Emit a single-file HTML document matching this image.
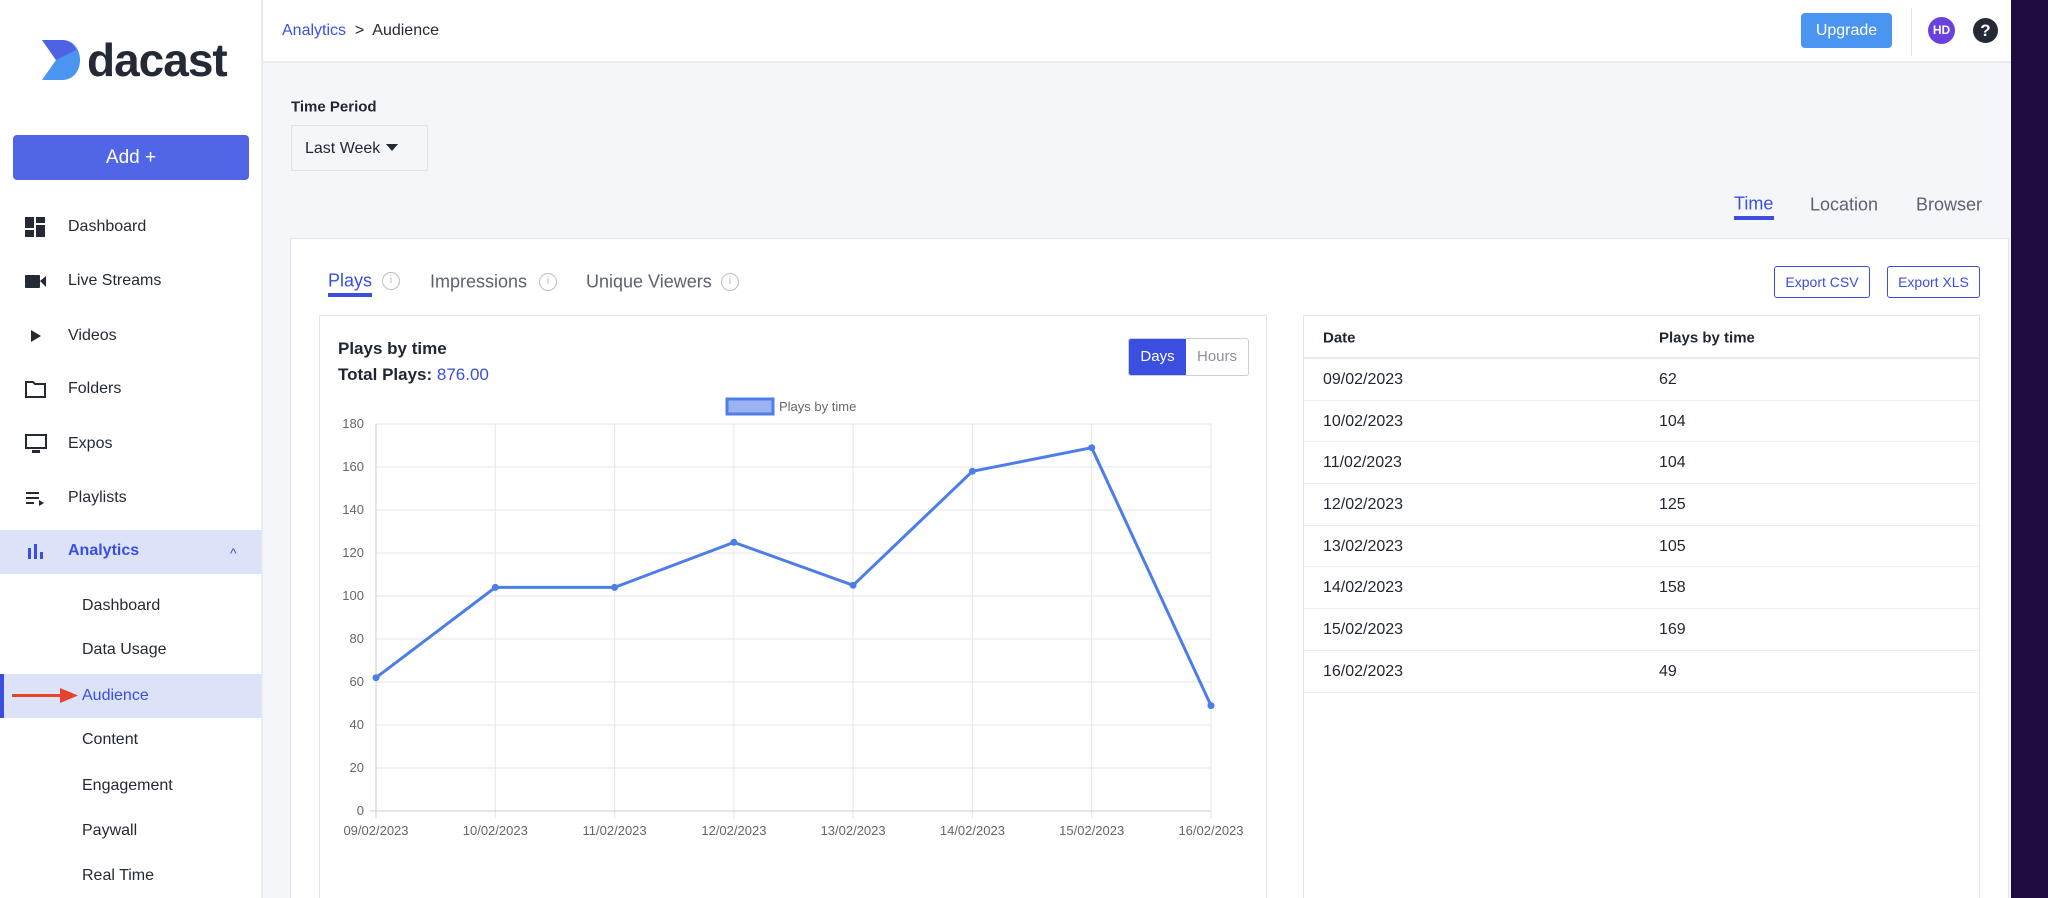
<!DOCTYPE html>
<html style="width:2048px;height:898px;overflow:hidden"><head><meta charset="utf-8"><style>
*{box-sizing:border-box;margin:0;padding:0}
body{width:2048px;height:898px;overflow:hidden;background:#f5f6fa;font-family:"Liberation Sans",sans-serif;color:#1f2633;position:relative}
.abs{position:absolute}
.side{left:0;top:0;width:263px;height:898px;background:#fff;border-right:2px solid #e8eaf0}
.nav{position:absolute;left:68px;font-size:16px;color:#232a36;transform:translateY(-50%)}
.sub{position:absolute;left:82px;font-size:16px;color:#232a36;transform:translateY(-50%)}
.ico{position:absolute;left:25px;width:22px;height:20px;transform:translateY(-50%)}
.hdr{left:263px;top:0;width:1748px;height:63px;background:#fff;border-bottom:2px solid #e8eaf0}
.t{position:absolute;white-space:nowrap;transform:translateY(-50%)}
</style></head><body>
<div class="abs side">
  <svg class="abs" style="left:40px;top:40px" width="42" height="40" viewBox="0 0 42 40"><path d="M2 0H22C34 0 40 10 40 20C40 30 34 40 22 40H2L16 20Z" fill="#4a95f0"/><path d="M2 0H22C30 0 34 5 36 10L16 20Z" fill="#4d63e4"/></svg>
  <div class="t" style="left:87px;top:60px;font-size:46px;font-weight:bold;color:#232a36;letter-spacing:-1px">dacast</div>
  <div class="abs" style="left:13px;top:135px;width:236px;height:45px;background:#5066e6;border-radius:4px;color:#fff;font-size:19px;text-align:center;line-height:45px">Add +</div>
  <div class="ico" style="top:227px"><svg width="22" height="20"><rect x="0" y="0" width="9" height="11" fill="#232a36"/><rect x="11" y="0" width="9" height="6" fill="#232a36"/><rect x="0" y="13" width="9" height="7" fill="#232a36"/><rect x="11" y="8" width="9" height="12" fill="#232a36"/></svg></div>
  <div class="nav" style="top:227px">Dashboard</div>
  <div class="ico" style="top:281px"><svg width="22" height="20"><rect x="0" y="4" width="15" height="13" rx="1" fill="#232a36"/><path d="M15 10L21 5V16Z" fill="#232a36"/></svg></div>
  <div class="nav" style="top:281px">Live Streams</div>
  <div class="ico" style="top:336px"><svg width="22" height="20"><path d="M6 4L16 10L6 16Z" fill="#232a36"/></svg></div>
  <div class="nav" style="top:336px">Videos</div>
  <div class="ico" style="top:389px"><svg width="22" height="20"><path d="M1 3H8L10 5H20V18H1Z" fill="none" stroke="#232a36" stroke-width="2"/></svg></div>
  <div class="nav" style="top:389px">Folders</div>
  <div class="ico" style="top:444px"><svg width="22" height="20"><rect x="1" y="1" width="20" height="13" fill="none" stroke="#232a36" stroke-width="2"/><rect x="7" y="16" width="8" height="3" fill="#232a36"/></svg></div>
  <div class="nav" style="top:444px">Expos</div>
  <div class="ico" style="top:498px"><svg width="22" height="20"><rect x="1" y="4" width="13" height="2" fill="#232a36"/><rect x="1" y="9" width="13" height="2" fill="#232a36"/><rect x="1" y="14" width="8" height="2" fill="#232a36"/><path d="M14 12L19 15L14 18Z" fill="#232a36"/></svg></div>
  <div class="nav" style="top:498px">Playlists</div>
  <div class="abs" style="left:0;top:530px;width:261px;height:44px;background:#dce2f8"></div>
  <div class="ico" style="top:551px"><svg width="22" height="20"><rect x="3" y="7" width="3" height="11" fill="#3a4fe0"/><rect x="9" y="3" width="3" height="15" fill="#3a4fe0"/><rect x="15" y="11" width="3" height="7" fill="#3a4fe0"/></svg></div>
  <div class="nav" style="top:551px;color:#3a4fe0;font-weight:bold">Analytics</div>
  <div class="t" style="left:230px;top:553px;font-size:14px;color:#3a4fe0">^</div>
  <div class="sub" style="top:606px">Dashboard</div>
  <div class="sub" style="top:650px">Data Usage</div>
  <div class="abs" style="left:0;top:674px;width:261px;height:44px;background:#dce2f8;border-left:4px solid #3a4fe0"></div>
  <svg class="abs" style="left:10px;top:688px" width="70" height="16"><rect x="2" y="6" width="52" height="3" fill="#e8412c"/><path d="M50 0L68 7.5L50 15Z" fill="#e8412c"/></svg>
  <div class="sub" style="top:696px;color:#3a4fe0">Audience</div>
  <div class="sub" style="top:740px">Content</div>
  <div class="sub" style="top:786px">Engagement</div>
  <div class="sub" style="top:831px">Paywall</div>
  <div class="sub" style="top:876px">Real Time</div>
</div>
<div class="abs hdr">
  <div class="t" style="left:19px;top:31px;font-size:16px;color:#3a4fe0">Analytics <span style="color:#232a36">&nbsp;&gt;&nbsp; Audience</span></div>
  <div class="abs" style="left:1538px;top:13px;width:91px;height:35px;background:#4a95f0;border-radius:4px;color:#fff;font-size:16px;text-align:center;line-height:35px">Upgrade</div>
  <div class="abs" style="left:1648px;top:8px;width:1px;height:48px;background:#e3e5ea"></div>
  <div class="abs" style="left:1665px;top:17px;width:27px;height:27px;border-radius:50%;background:#6a40e0;color:#fff;font-size:12px;font-weight:bold;text-align:center;line-height:27px">HD</div>
  <div class="abs" style="left:1710px;top:18px;width:25px;height:25px;border-radius:50%;background:#232a36;color:#fff;font-size:17px;font-weight:bold;text-align:center;line-height:25px">?</div>
</div>
<div class="abs" style="left:2011px;top:0;width:37px;height:898px;background:#1e0c40"></div>
<div class="t" style="left:291px;top:107px;font-size:15px;font-weight:bold">Time Period</div>
<div class="abs" style="left:291px;top:125px;width:137px;height:46px;background:#f5f6fa;border:1px solid #dfe2e8"></div>
<div class="t" style="left:305px;top:149px;font-size:16px">Last Week</div>
<svg class="abs" style="left:386px;top:144px" width="12" height="8"><path d="M0 0H12L6 7Z" fill="#232a36"/></svg>
<div class="t" style="left:1734px;top:204px;font-size:18px;color:#3a4fe0">Time</div>
<div class="abs" style="left:1734px;top:216px;width:40px;height:4px;background:#3a4fe0"></div>
<div class="t" style="left:1810px;top:205px;font-size:18px;color:#5c6370">Location</div>
<div class="t" style="left:1916px;top:205px;font-size:18px;color:#5c6370">Browser</div>
<div class="abs" style="left:290px;top:238px;width:1719px;height:660px;background:#fff;border:1px solid #e1e4ea;border-bottom:none"></div>
<div class="t" style="left:328px;top:281px;font-size:18px;color:#3a4fe0">Plays</div>
<div class="abs" style="left:328px;top:293px;width:44px;height:4px;background:#3a4fe0"></div>
<div class="abs" style="left:382px;top:272px;width:18px;height:18px;border:1.5px solid #b8bfcc;border-radius:50%;color:#b8bfcc;font-size:11px;text-align:center;line-height:15px">i</div>
<div class="t" style="left:430px;top:282px;font-size:18px;color:#5c6370">Impressions</div>
<div class="abs" style="left:539px;top:273px;width:18px;height:18px;border:1.5px solid #b8bfcc;border-radius:50%;color:#b8bfcc;font-size:11px;text-align:center;line-height:15px">i</div>
<div class="t" style="left:586px;top:282px;font-size:18px;color:#5c6370">Unique Viewers</div>
<div class="abs" style="left:721px;top:273px;width:18px;height:18px;border:1.5px solid #b8bfcc;border-radius:50%;color:#b8bfcc;font-size:11px;text-align:center;line-height:15px">i</div>
<div class="abs" style="left:1774px;top:266px;width:96px;height:32px;border:1px solid #3a4fe0;border-radius:3px;color:#3a4fe0;font-size:14px;text-align:center;line-height:30px">Export CSV</div>
<div class="abs" style="left:1887px;top:266px;width:93px;height:32px;border:1px solid #3a4fe0;border-radius:3px;color:#3a4fe0;font-size:14px;text-align:center;line-height:30px">Export XLS</div>
<div class="abs" style="left:319px;top:315px;width:948px;height:583px;background:#fff;border:1px solid #e1e4ea;border-bottom:none"></div>
<div class="t" style="left:338px;top:349px;font-size:17px;font-weight:bold">Plays by time</div>
<div class="t" style="left:338px;top:375px;font-size:17px;font-weight:bold">Total Plays: <span style="color:#3a4fe0;font-weight:normal">876.00</span></div>
<div class="abs" style="left:1128px;top:338px;width:121px;height:38px;border:1px solid #c9ced8;border-radius:3px;overflow:hidden;font-size:15px;line-height:36px">
  <div class="abs" style="left:0;top:0;width:57px;height:36px;background:#3a4fe0;color:#fff;text-align:center">Days</div>
  <div class="abs" style="left:57px;top:0;width:62px;height:36px;color:#8a909c;text-align:center">Hours</div>
</div>
<svg class="abs" style="left:319px;top:390px" width="948" height="460" font-family="Liberation Sans, sans-serif" font-size="13" fill="#666">
  <g transform="translate(-319,-390)">
  <rect x="727" y="399" width="46" height="15" fill="#9bb3f2" stroke="#4d7ee8" stroke-width="3"/>
  <text x="779" y="411" font-size="13" fill="#666">Plays by time</text>
  <g stroke="#e6e6e6" stroke-width="1">
    <line x1="376" x2="1211" y1="424" y2="424"/><line x1="376" x2="1211" y1="467" y2="467"/><line x1="376" x2="1211" y1="510" y2="510"/><line x1="376" x2="1211" y1="553" y2="553"/><line x1="376" x2="1211" y1="596" y2="596"/><line x1="376" x2="1211" y1="639" y2="639"/><line x1="376" x2="1211" y1="682" y2="682"/><line x1="376" x2="1211" y1="725" y2="725"/><line x1="376" x2="1211" y1="768" y2="768"/>
    <line x1="495.3" x2="495.3" y1="424" y2="818"/><line x1="614.6" x2="614.6" y1="424" y2="818"/><line x1="733.9" x2="733.9" y1="424" y2="818"/><line x1="853.1" x2="853.1" y1="424" y2="818"/><line x1="972.4" x2="972.4" y1="424" y2="818"/><line x1="1091.7" x2="1091.7" y1="424" y2="818"/><line x1="1211" x2="1211" y1="424" y2="818"/>
  </g>
  <line x1="376" x2="376" y1="424" y2="818" stroke="#ccc"/>
  <line x1="370" x2="1211" y1="811" y2="811" stroke="#ccc"/>
  <g text-anchor="end">
    <text x="364" y="428">180</text><text x="364" y="471">160</text><text x="364" y="514">140</text><text x="364" y="557">120</text><text x="364" y="600">100</text><text x="364" y="643">80</text><text x="364" y="686">60</text><text x="364" y="729">40</text><text x="364" y="772">20</text><text x="364" y="815">0</text>
  </g>
  <g text-anchor="middle">
    <text x="376" y="835">09/02/2023</text><text x="495.3" y="835">10/02/2023</text><text x="614.6" y="835">11/02/2023</text><text x="733.9" y="835">12/02/2023</text><text x="853.1" y="835">13/02/2023</text><text x="972.4" y="835">14/02/2023</text><text x="1091.7" y="835">15/02/2023</text><text x="1211" y="835">16/02/2023</text>
  </g>
  <polyline fill="none" stroke="#4d7ee8" stroke-width="3" points="376,677.7 495.3,587.4 614.6,587.4 733.9,542.3 853.1,585.3 972.4,471.3 1091.7,447.7 1211,705.6"/>
  <g fill="#4d7ee8"><circle cx="376" cy="677.7" r="3.5"/><circle cx="495.3" cy="587.4" r="3.5"/><circle cx="614.6" cy="587.4" r="3.5"/><circle cx="733.9" cy="542.3" r="3.5"/><circle cx="853.1" cy="585.3" r="3.5"/><circle cx="972.4" cy="471.3" r="3.5"/><circle cx="1091.7" cy="447.7" r="3.5"/><circle cx="1211" cy="705.6" r="3.5"/></g>
  </g>
</svg>
<div class="abs" style="left:1303px;top:315px;width:677px;height:583px;background:#fff;border:1px solid #e1e4ea;border-bottom:none"></div>
<div class="abs" style="left:1304px;top:357px;width:675px;height:2px;background:#e8eaf0"></div>
<div class="t" style="left:1323px;top:338px;font-size:15px;font-weight:bold">Date</div>
<div class="t" style="left:1659px;top:338px;font-size:15px;font-weight:bold">Plays by time</div>
<div style="position:absolute;left:1304px;top:359px;width:675px;font-size:16px">
  <div style="height:41.7px;border-bottom:1px solid #eceef2;position:relative"><span class="t" style="left:19px;top:21px">09/02/2023</span><span class="t" style="left:355px;top:21px">62</span></div>
  <div style="height:41.7px;border-bottom:1px solid #eceef2;position:relative"><span class="t" style="left:19px;top:21px">10/02/2023</span><span class="t" style="left:355px;top:21px">104</span></div>
  <div style="height:41.7px;border-bottom:1px solid #eceef2;position:relative"><span class="t" style="left:19px;top:21px">11/02/2023</span><span class="t" style="left:355px;top:21px">104</span></div>
  <div style="height:41.7px;border-bottom:1px solid #eceef2;position:relative"><span class="t" style="left:19px;top:21px">12/02/2023</span><span class="t" style="left:355px;top:21px">125</span></div>
  <div style="height:41.7px;border-bottom:1px solid #eceef2;position:relative"><span class="t" style="left:19px;top:21px">13/02/2023</span><span class="t" style="left:355px;top:21px">105</span></div>
  <div style="height:41.7px;border-bottom:1px solid #eceef2;position:relative"><span class="t" style="left:19px;top:21px">14/02/2023</span><span class="t" style="left:355px;top:21px">158</span></div>
  <div style="height:41.7px;border-bottom:1px solid #eceef2;position:relative"><span class="t" style="left:19px;top:21px">15/02/2023</span><span class="t" style="left:355px;top:21px">169</span></div>
  <div style="height:41.7px;border-bottom:1px solid #eceef2;position:relative"><span class="t" style="left:19px;top:21px">16/02/2023</span><span class="t" style="left:355px;top:21px">49</span></div>
</div>
</body></html>
